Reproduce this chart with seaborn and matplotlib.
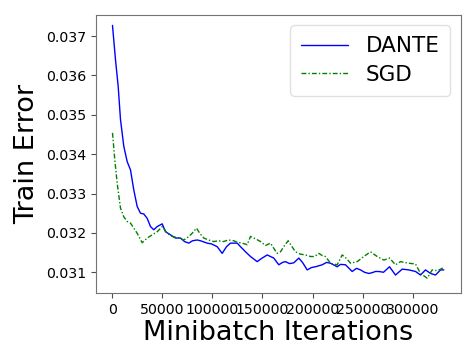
import matplotlib
matplotlib.use("Agg")
import matplotlib.pyplot as plt
import seaborn as sns
import pandas as pd

dante_x = [0, 3000, 5700, 8000, 11300, 14700, 18000, 21300, 24700, 28000, 31300, 34700,
           38000, 41300, 44700, 49700, 53000, 58000, 63000, 68000, 72000, 76300, 80000,
           84700, 88000, 94700, 99000, 104700, 109700, 114000, 118000, 124700, 128000,
           133000, 138000, 144700, 149000, 154700, 158000, 161300, 166300, 170000, 173000,
           177000, 181300, 186300, 190000, 194700, 199000, 203000, 209700, 214000, 218000,
           224700, 228000, 233000, 239700, 244000, 248000, 252000, 256300, 259700, 263000,
           266300, 271000, 277000, 283000, 289700, 296300, 303000, 308000, 313000, 318000,
           323000, 328000, 331300]
dante_y = [0.03727, 0.03640, 0.03572, 0.03488, 0.03420, 0.03381, 0.03360, 0.03309, 0.03267,
           0.03250, 0.03248, 0.03237, 0.03216, 0.03208, 0.03216, 0.03223, 0.03203, 0.03195,
           0.03187, 0.03187, 0.03178, 0.03174, 0.03180, 0.03182, 0.03180, 0.03174, 0.03172,
           0.03165, 0.03148, 0.03165, 0.03174, 0.03174, 0.03165, 0.03152, 0.03140, 0.03127,
           0.03135, 0.03144, 0.03140, 0.03136, 0.03119, 0.03125, 0.03127, 0.03122, 0.03124,
           0.03136, 0.03125, 0.03106, 0.03112, 0.03114, 0.03119, 0.03125, 0.03123, 0.03114,
           0.03120, 0.03119, 0.03102, 0.03110, 0.03106, 0.03100, 0.03097, 0.03099, 0.03102,
           0.03102, 0.03100, 0.03114, 0.03093, 0.03108, 0.03106, 0.03102, 0.03093, 0.03106,
           0.03097, 0.03093, 0.03106, 0.03106]

sgd_x = [0, 2300, 4700, 8000, 11300, 14700, 18000, 21300, 24700, 29700, 34700, 39700,
         44700, 49700, 54700, 59700, 66300, 71300, 76000, 80000, 84000, 87500, 91300,
         96000, 101300, 106000, 111000, 116000, 121300, 125000, 129700, 134700, 138000,
         143000, 148000, 153000, 158000, 161500, 164700, 168000, 172000, 175700, 179500,
         183000, 188000, 193000, 198000, 202000, 206300, 210000, 213000, 218000, 224700,
         229700, 234000, 238000, 244700, 251300, 258000, 264700, 271300, 277000, 283000,
         288000, 296300, 303000, 308000, 314700, 319700, 325000, 329700, 331300]
sgd_y = [0.03454, 0.03386, 0.03326, 0.03263, 0.03241, 0.03229, 0.03225, 0.03212, 0.03199,
         0.03175, 0.03187, 0.03195, 0.03203, 0.03216, 0.03199, 0.03191, 0.03187, 0.03182,
         0.03190, 0.03200, 0.03212, 0.03198, 0.03187, 0.03182, 0.03178, 0.03180, 0.03178,
         0.03182, 0.03180, 0.03176, 0.03174, 0.03170, 0.03191, 0.03185, 0.03178, 0.03168,
         0.03174, 0.03160, 0.03148, 0.03152, 0.03168, 0.03180, 0.03165, 0.03152, 0.03146,
         0.03144, 0.03140, 0.03140, 0.03148, 0.03142, 0.03140, 0.03123, 0.03119, 0.03144,
         0.03135, 0.03123, 0.03127, 0.03140, 0.03152, 0.03140, 0.03131, 0.03136, 0.03119,
         0.03127, 0.03123, 0.03121, 0.03097, 0.03085, 0.03106, 0.03104, 0.03110, 0.03116]

x_ticks = [0, 50000, 100000, 150000, 200000, 250000, 300000]
y_ticks = [0.031, 0.032, 0.033, 0.034, 0.035, 0.036, 0.037]

sns.set_style("ticks", {"axes.edgecolor": "0.5"})
plt.rcParams["font.family"] = ["DejaVu Sans"]

df = pd.concat([
    pd.DataFrame({"it": dante_x, "err": dante_y, "method": "DANTE"}),
    pd.DataFrame({"it": sgd_x, "err": sgd_y, "method": "SGD"}),
], ignore_index=True)

fig = plt.figure(figsize=(4.74, 3.55), dpi=100)
ax = fig.add_axes([0.2025, 0.1746, 0.9726 - 0.2025, 0.9586 - 0.1746])

sns.lineplot(data=df, x="it", y="err", hue="method", style="method",
             palette={"DANTE": "#0000ff", "SGD": "#008000"},
             dashes={"DANTE": "", "SGD": (3.5, 1.5, 1, 1.5)},
             estimator=None, sort=False, linewidth=1.0, ax=ax)

ax.set_xlim(-16500, 348500)
ax.set_ylim(0.030473, 0.037542)
ax.set_xticks(x_ticks)
ax.set_yticks(y_ticks)
ax.set_xticklabels([str(v) for v in x_ticks])
ax.set_yticklabels([f"{v:.3f}" for v in y_ticks])
ax.tick_params(labelsize=10.2, colors="black", length=3.5, width=0.8)
ax.tick_params(color="0.3")
for s in ax.spines.values():
    s.set_visible(True)
    s.set_color("0.45")
ax.set_xlabel("Minibatch Iterations", fontsize=19.5, color="black", labelpad=2)
ax.set_ylabel("Train Error", fontsize=19.5, color="black", labelpad=4)

leg = ax.legend(loc="upper right", fontsize=15.5, frameon=True, fancybox=True,
                edgecolor="0.85", handlelength=2.2, borderpad=0.5, labelspacing=0.4,
                borderaxespad=0.5)
for t in leg.get_texts():
    t.set_color("black")
for h in leg.get_lines():
    h.set_linewidth(1.0)

fig.savefig("out.png", dpi=100)
